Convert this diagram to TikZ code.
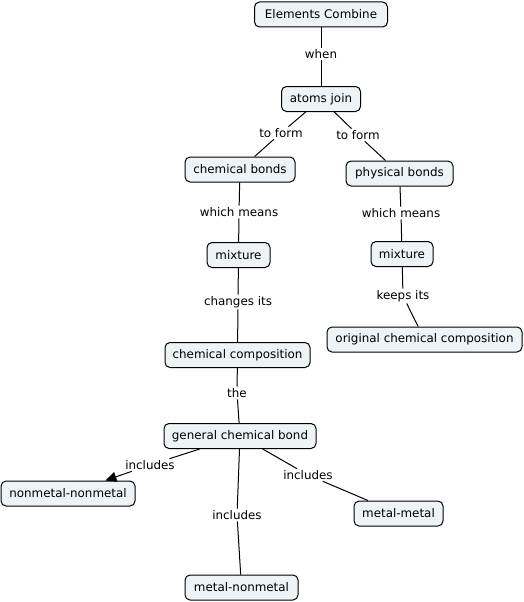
\documentclass[tikz,border=0pt]{standalone}
\usepackage{fontspec}
\setmainfont{DejaVu Sans}
\usetikzlibrary{arrows.meta}
\begin{document}
\begin{tikzpicture}[x=1pt,y=-1pt,
  concept/.style={draw=black, line width=1pt, fill=nodefill, rounded corners=5pt,
    minimum height=25pt, inner sep=0pt, font=\fontsize{11.9}{13}\selectfont},
  lbl/.style={inner sep=1.5pt, font=\fontsize{11.9}{13}\selectfont},
  link/.style={draw=black, line width=1pt},
  arr/.style={link, -{Triangle[length=11pt,width=10pt]}}]
\definecolor{nodefill}{HTML}{EEF3F6}
\useasboundingbox (0,0) rectangle (524,602);
% concepts
\node[concept, minimum width=133pt] (ec) at (321,14.5) {Elements Combine};
\node[concept, minimum width=79pt] (aj) at (321,99) {atoms join};
\node[concept, minimum width=110pt] (cb) at (240,169.5) {chemical bonds};
\node[concept, minimum width=107pt] (pb) at (399.5,173.5) {physical bonds};
\node[concept, minimum width=63pt] (mx1) at (238.5,255) {mixture};
\node[concept, minimum width=62pt] (mx2) at (402,254) {mixture};
\node[concept, minimum width=195pt] (occ) at (424.5,339.5) {original chemical composition};
\node[concept, minimum width=145pt] (cc) at (237.5,355) {chemical composition};
\node[concept, minimum width=152pt] (gcb) at (240,436) {general chemical bond};
\node[concept, minimum width=134pt] (nn) at (68,493.5) {nonmetal-nonmetal};
\node[concept, minimum width=89pt] (mm) at (398.5,513.5) {metal-metal};
\node[concept, minimum width=113pt] (mn) at (241.5,587.5) {metal-nonmetal};
% link labels
\node[lbl] (l1) at (321,54) {when};
\node[lbl] (l2) at (281,133) {to form};
\node[lbl] (l3) at (358,135) {to form};
\node[lbl] (l4) at (239,212) {which means};
\node[lbl] (l5) at (401,213) {which means};
\node[lbl] (l6) at (238,302) {changes its};
\node[lbl] (l7) at (403,296) {keeps its};
\node[lbl] (l8) at (237,393) {the};
\node[lbl] (l9) at (150,465) {includes};
\node[lbl] (l10) at (308,475) {includes};
\node[lbl] (l11) at (237,515) {includes};
% connectors
\draw[link] (ec) -- (l1) -- (aj);
\draw[link] (aj) -- (l2) -- (cb);
\draw[link] (aj) -- (l3) -- (pb);
\draw[link] (cb) -- (l4) -- (mx1);
\draw[link] (pb) -- (l5) -- (mx2);
\draw[link] (mx1) -- (l6) -- (cc);
\draw[link] (mx2) -- (l7) -- (occ);
\draw[link] (cc) -- (l8) -- (gcb);
\draw[link] (gcb) -- (l9);
\draw[arr] (l9) -- (nn);
\draw[link] (gcb) -- (l10) -- (mm);
\draw[link] (gcb) -- (l11) -- (mn);
\end{tikzpicture}
\end{document}
